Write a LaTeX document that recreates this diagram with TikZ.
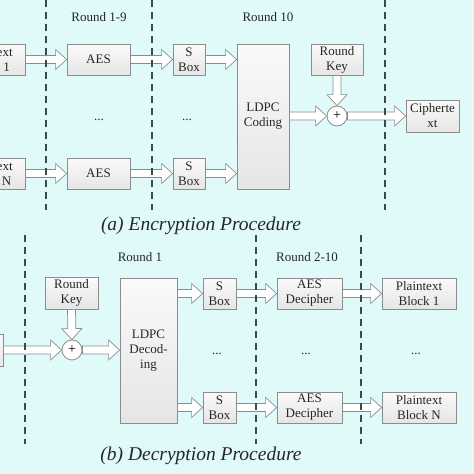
\documentclass[tikz,border=0pt]{standalone}
\usepackage{fontspec}
\setmainfont{Liberation Serif}
\usetikzlibrary{calc}
\definecolor{bgcyan}{RGB}{224,250,250}
\definecolor{boxline}{RGB}{140,140,140}
\definecolor{dashcol}{RGB}{58,74,74}
\def\fatarrow(#1)(#2){\draw[fatarr] let \p1=(#1), \p2=(#2), \n1={atan2(\y2-\y1,\x2-\x1)}, \n2={veclen(\x2-\x1,\y2-\y1)} in [shift={(\p1)}, rotate=\n1] (0pt,-4pt) -- (\n2-11pt,-4pt) -- (\n2-11pt,-10pt) -- (\n2,0pt) -- (\n2-11pt,10pt) -- (\n2-11pt,4pt) -- (0pt,4pt) -- cycle;}

\begin{document}
\begin{tikzpicture}[x=1pt, y=-1pt,
		blk/.style={draw=boxline, line width=0.8pt, top color=gray!4, bottom color=gray!20, inner sep=0pt, minimum height=31pt, align=center, font=\fontsize{13}{15}\selectfont, text=black!85},
		xorc/.style={circle, draw=boxline, line width=0.8pt, fill=white, minimum size=20pt, inner sep=0pt, font=\fontsize{14}{14}\selectfont},
		fatarr/.style={draw=boxline, line width=0.7pt, fill=white},
		sep/.style={dashcol, line width=1.3pt, dash pattern=on 7pt off 5pt},
		lbl/.style={font=\fontsize{13}{15}\selectfont, text=black!85},
		capt/.style={font=\fontsize{19.5}{23}\selectfont\itshape, text=black!85}]
			\clip (0,0) rectangle (474,474);
			\useasboundingbox (0,0) rectangle (474,474);
			\fill[bgcyan] (0,0) rectangle (474,474);
			
			%%%%% ENCRYPTION %%%%%
			
			\node[lbl] (r19) at (99, 17) {Round 1-9};
			\node[lbl] (r10) at (268, 17) {Round 10};
			
			\node[blk, minimum width=71pt] (pt1) at (-10.5, 59.5) {Plaintext\\Block 1};
			\node[blk, minimum width=71pt] (ptN) at (-10.5, 173.5) {Plaintext\\Block N};
			\node[blk, minimum width=63pt] (aes1) at (98.5, 59.5) {AES};
			\node[blk, minimum width=63pt] (aesN) at (98.5, 173.5) {AES};
			\node[blk, minimum width=32pt] (sb1) at (189, 59.5) {S\\Box};
			\node[blk, minimum width=32pt] (sbN) at (189, 173.5) {S\\Box};
			\node[blk, minimum width=52pt, minimum height=145pt] (ldpc) at (263, 116.5) {LDPC\\Coding};
			\node[blk, minimum width=52pt] (key1) at (337, 59.5) {Round\\Key};
			\node[xorc] (xor1) at (337, 116) {+};
			\node[blk, minimum width=53pt, minimum height=32pt] (ct) at (432.5, 116) {Cipherte\\xt};
			
			\node[lbl] (d1) at (99, 120) {...};
			\node[lbl] (d2) at (187, 120) {...};
			
			\fatarrow(pt1.east)(aes1.west)
			\fatarrow(ptN.east)(aesN.west)
			\fatarrow(aes1.east)(sb1.west)
			\fatarrow(aesN.east)(sbN.west)
			\fatarrow(sb1.east)(ldpc.west |- sb1.east)
			\fatarrow(sbN.east)(ldpc.west |- sbN.east)
			\fatarrow(ldpc.east |- xor1.west)(xor1.west)
			\fatarrow(key1.south)(xor1.north)
			\fatarrow(xor1.east)(ct.west)
			
			\draw[sep] (46, 0) -- (46, 210);
			\draw[sep] (152, 0) -- (152, 210);
			\draw[sep] (385, 0) -- (385, 210);
			
			\node[capt] (capa) at (201, 226) {(a) Encryption Procedure};
			
			%%%%% DECRYPTION %%%%%
			
			\node[lbl] (r1) at (140, 257) {Round 1};
			\node[lbl] (r210) at (307, 257) {Round 2-10};
			
			\node[blk, minimum width=53pt, minimum height=32pt] (ctin) at (-23.5, 350) {};
			\node[blk, minimum width=53pt, minimum height=32pt] (key2) at (71.5, 293) {Round\\Key};
			\node[xorc] (xor2) at (72, 350) {+};
			\node[blk, minimum width=57pt, minimum height=145pt] (ldpc2) at (148.5, 350.5) {LDPC\\Decod-\\ing};
			\node[blk, minimum width=33pt] (sb2a) at (219.5, 293.5) {S\\Box};
			\node[blk, minimum width=33pt] (sb2b) at (219.5, 407.5) {S\\Box};
			\node[blk, minimum width=65pt] (aesd1) at (309.5, 293.5) {AES\\Decipher};
			\node[blk, minimum width=65pt] (aesdN) at (309.5, 407.5) {AES\\Decipher};
			\node[blk, minimum width=74pt] (pb1) at (419, 293.5) {Plaintext\\Block 1};
			\node[blk, minimum width=74pt] (pbN) at (419, 407.5) {Plaintext\\Block N};
			
			\node[lbl] (d3) at (217, 354) {...};
			\node[lbl] (d4) at (306, 354) {...};
			\node[lbl] (d5) at (416, 354) {...};
			
			\fatarrow(ctin.east)(xor2.west)
			\fatarrow(key2.south)(xor2.north)
			\fatarrow(xor2.east)(ldpc2.west |- xor2.east)
			\fatarrow(ldpc2.east |- sb2a.west)(sb2a.west)
			\fatarrow(ldpc2.east |- sb2b.west)(sb2b.west)
			\fatarrow(sb2a.east)(aesd1.west)
			\fatarrow(sb2b.east)(aesdN.west)
			\fatarrow(aesd1.east)(pb1.west)
			\fatarrow(aesdN.east)(pbN.west)
			
			\draw[sep] (25, 235) -- (25, 444);
			\draw[sep] (256, 235) -- (256, 444);
			\draw[sep] (361, 235) -- (361, 444);
			
			\node[capt] (capb) at (201, 456) {(b) Decryption Procedure};
			
			%%%%% END %%%%%
\end{tikzpicture}
\end{document}
